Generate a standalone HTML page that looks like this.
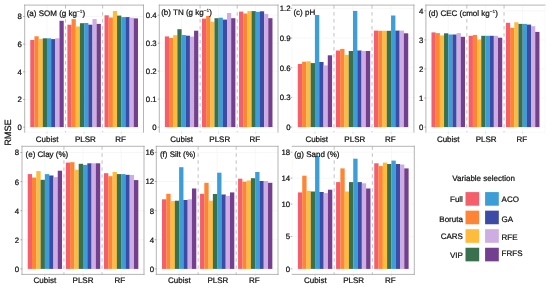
<!DOCTYPE html><html><head><meta charset="utf-8"><title>RMSE</title><style>html,body{margin:0;padding:0;background:#fff}svg{display:block}text{text-rendering:geometricPrecision;font-family:"Liberation Sans",sans-serif;fill:#111;stroke:#111;stroke-width:0.22px}</style></head><body>
<svg width="550" height="289" viewBox="0 0 550 289">
<rect width="550" height="289" fill="#fff"/>
<line x1="24.70" x2="143.50" y1="127.10" y2="127.10" stroke="#efefef" stroke-width="0.5"/>
<line x1="24.70" x2="143.50" y1="99.45" y2="99.45" stroke="#efefef" stroke-width="0.5"/>
<line x1="24.70" x2="143.50" y1="71.80" y2="71.80" stroke="#efefef" stroke-width="0.5"/>
<line x1="24.70" x2="143.50" y1="44.15" y2="44.15" stroke="#efefef" stroke-width="0.5"/>
<line x1="24.70" x2="143.50" y1="16.50" y2="16.50" stroke="#efefef" stroke-width="0.5"/>
<line x1="46.97" x2="46.97" y1="5.10" y2="132.30" stroke="#efefef" stroke-width="0.5"/>
<line x1="84.10" x2="84.10" y1="5.10" y2="132.30" stroke="#efefef" stroke-width="0.5"/>
<line x1="121.23" x2="121.23" y1="5.10" y2="132.30" stroke="#efefef" stroke-width="0.5"/>
<line x1="65.54" x2="65.54" y1="5.10" y2="132.30" stroke="#c0c0c0" stroke-width="1.0" stroke-dasharray="3.5 3.5"/>
<line x1="102.66" x2="102.66" y1="5.10" y2="132.30" stroke="#c0c0c0" stroke-width="1.0" stroke-dasharray="3.5 3.5"/>
<rect x="30.27" y="40.00" width="4.23" height="87.10" fill="#F55F6C"/>
<rect x="34.45" y="36.30" width="4.23" height="90.80" fill="#FF8536"/>
<rect x="38.62" y="38.90" width="4.23" height="88.20" fill="#FFBB3B"/>
<rect x="42.80" y="38.30" width="4.23" height="88.80" fill="#39704D"/>
<rect x="46.97" y="38.30" width="4.23" height="88.80" fill="#3C9DD7"/>
<rect x="51.15" y="39.10" width="4.23" height="88.00" fill="#3B4BA6"/>
<rect x="55.33" y="38.30" width="4.23" height="88.80" fill="#CDADE2"/>
<rect x="59.50" y="20.80" width="4.23" height="106.30" fill="#733F8E"/>
<rect x="67.39" y="24.70" width="4.23" height="102.40" fill="#F55F6C"/>
<rect x="71.57" y="19.10" width="4.23" height="108.00" fill="#FF8536"/>
<rect x="75.75" y="26.50" width="4.23" height="100.60" fill="#FFBB3B"/>
<rect x="79.92" y="23.20" width="4.23" height="103.90" fill="#39704D"/>
<rect x="84.10" y="23.00" width="4.23" height="104.10" fill="#3C9DD7"/>
<rect x="88.28" y="24.70" width="4.23" height="102.40" fill="#3B4BA6"/>
<rect x="92.45" y="19.10" width="4.23" height="108.00" fill="#CDADE2"/>
<rect x="96.63" y="23.90" width="4.23" height="103.20" fill="#733F8E"/>
<rect x="104.52" y="15.30" width="4.23" height="111.80" fill="#F55F6C"/>
<rect x="108.70" y="17.50" width="4.23" height="109.60" fill="#FF8536"/>
<rect x="112.87" y="11.00" width="4.23" height="116.10" fill="#FFBB3B"/>
<rect x="117.05" y="15.60" width="4.23" height="111.50" fill="#39704D"/>
<rect x="121.23" y="17.10" width="4.23" height="110.00" fill="#3C9DD7"/>
<rect x="125.40" y="17.10" width="4.23" height="110.00" fill="#3B4BA6"/>
<rect x="129.58" y="17.70" width="4.23" height="109.40" fill="#CDADE2"/>
<rect x="133.75" y="18.40" width="4.23" height="108.70" fill="#733F8E"/>
<line x1="24.70" y1="132.30" x2="24.70" y2="5.10" stroke="#a2a2a2" stroke-width="0.8" stroke-linecap="square"/>
<line x1="24.70" y1="5.10" x2="143.50" y2="5.10" stroke="#a2a2a2" stroke-width="0.8" stroke-linecap="square"/>
<line x1="143.50" y1="5.10" x2="143.50" y2="132.30" stroke="#a2a2a2" stroke-width="0.8" stroke-linecap="square"/>
<line x1="24.70" y1="132.30" x2="143.50" y2="132.30" stroke="#f0f0f0" stroke-width="0.5"/>
<line x1="23.10" x2="24.70" y1="127.10" y2="127.10" stroke="#666" stroke-width="0.5"/>
<text x="21.90" y="130.05" font-size="7.8" stroke-width="0.16" text-anchor="end">0</text>
<line x1="23.10" x2="24.70" y1="99.45" y2="99.45" stroke="#666" stroke-width="0.5"/>
<text x="21.90" y="102.40" font-size="7.8" stroke-width="0.16" text-anchor="end">2</text>
<line x1="23.10" x2="24.70" y1="71.80" y2="71.80" stroke="#666" stroke-width="0.5"/>
<text x="21.90" y="74.75" font-size="7.8" stroke-width="0.16" text-anchor="end">4</text>
<line x1="23.10" x2="24.70" y1="44.15" y2="44.15" stroke="#666" stroke-width="0.5"/>
<text x="21.90" y="47.10" font-size="7.8" stroke-width="0.16" text-anchor="end">6</text>
<line x1="23.10" x2="24.70" y1="16.50" y2="16.50" stroke="#666" stroke-width="0.5"/>
<text x="21.90" y="19.45" font-size="7.8" stroke-width="0.16" text-anchor="end">8</text>
<line x1="46.97" x2="46.97" y1="132.30" y2="133.80" stroke="#bbb" stroke-width="0.5"/>
<text x="47.17" y="141.55" font-size="8" text-anchor="middle">Cubist</text>
<line x1="84.10" x2="84.10" y1="132.30" y2="133.80" stroke="#bbb" stroke-width="0.5"/>
<text x="85.40" y="141.55" font-size="8" text-anchor="middle">PLSR</text>
<line x1="121.23" x2="121.23" y1="132.30" y2="133.80" stroke="#bbb" stroke-width="0.5"/>
<text x="120.63" y="141.55" font-size="8" text-anchor="middle">RF</text>
<text x="26.70" y="15.90" font-size="8">(a) SOM (g kg<tspan font-size="4.8" dy="-3.0" stroke-width="0.1">−1</tspan><tspan dy="3.0">)</tspan></text>
<line x1="159.30" x2="278.00" y1="127.10" y2="127.10" stroke="#efefef" stroke-width="0.5"/>
<line x1="159.30" x2="278.00" y1="99.12" y2="99.12" stroke="#efefef" stroke-width="0.5"/>
<line x1="159.30" x2="278.00" y1="71.15" y2="71.15" stroke="#efefef" stroke-width="0.5"/>
<line x1="159.30" x2="278.00" y1="43.18" y2="43.18" stroke="#efefef" stroke-width="0.5"/>
<line x1="159.30" x2="278.00" y1="15.20" y2="15.20" stroke="#efefef" stroke-width="0.5"/>
<line x1="181.56" x2="181.56" y1="5.10" y2="132.30" stroke="#efefef" stroke-width="0.5"/>
<line x1="218.65" x2="218.65" y1="5.10" y2="132.30" stroke="#efefef" stroke-width="0.5"/>
<line x1="255.74" x2="255.74" y1="5.10" y2="132.30" stroke="#efefef" stroke-width="0.5"/>
<line x1="200.10" x2="200.10" y1="5.10" y2="132.30" stroke="#c0c0c0" stroke-width="1.0" stroke-dasharray="3.5 3.5"/>
<line x1="237.20" x2="237.20" y1="5.10" y2="132.30" stroke="#c0c0c0" stroke-width="1.0" stroke-dasharray="3.5 3.5"/>
<rect x="164.86" y="36.40" width="4.22" height="90.70" fill="#F55F6C"/>
<rect x="169.04" y="38.00" width="4.22" height="89.10" fill="#FF8536"/>
<rect x="173.21" y="35.20" width="4.22" height="91.90" fill="#FFBB3B"/>
<rect x="177.38" y="29.20" width="4.22" height="97.90" fill="#39704D"/>
<rect x="181.56" y="35.00" width="4.22" height="92.10" fill="#3C9DD7"/>
<rect x="185.73" y="35.70" width="4.22" height="91.40" fill="#3B4BA6"/>
<rect x="189.90" y="36.60" width="4.22" height="90.50" fill="#CDADE2"/>
<rect x="194.08" y="30.70" width="4.22" height="96.40" fill="#733F8E"/>
<rect x="201.96" y="18.60" width="4.22" height="108.50" fill="#F55F6C"/>
<rect x="206.13" y="16.00" width="4.22" height="111.10" fill="#FF8536"/>
<rect x="210.30" y="21.70" width="4.22" height="105.40" fill="#FFBB3B"/>
<rect x="214.48" y="18.20" width="4.22" height="108.90" fill="#39704D"/>
<rect x="218.65" y="17.70" width="4.22" height="109.40" fill="#3C9DD7"/>
<rect x="222.82" y="19.60" width="4.22" height="107.50" fill="#3B4BA6"/>
<rect x="227.00" y="13.00" width="4.22" height="114.10" fill="#CDADE2"/>
<rect x="231.17" y="18.20" width="4.22" height="108.90" fill="#733F8E"/>
<rect x="239.05" y="11.60" width="4.22" height="115.50" fill="#F55F6C"/>
<rect x="243.22" y="13.50" width="4.22" height="113.60" fill="#FF8536"/>
<rect x="247.40" y="11.10" width="4.22" height="116.00" fill="#FFBB3B"/>
<rect x="251.57" y="11.10" width="4.22" height="116.00" fill="#39704D"/>
<rect x="255.74" y="11.80" width="4.22" height="115.30" fill="#3C9DD7"/>
<rect x="259.92" y="11.30" width="4.22" height="115.80" fill="#3B4BA6"/>
<rect x="264.09" y="13.90" width="4.22" height="113.20" fill="#CDADE2"/>
<rect x="268.26" y="18.20" width="4.22" height="108.90" fill="#733F8E"/>
<line x1="159.30" y1="132.30" x2="159.30" y2="5.10" stroke="#a2a2a2" stroke-width="0.8" stroke-linecap="square"/>
<line x1="159.30" y1="5.10" x2="278.00" y2="5.10" stroke="#a2a2a2" stroke-width="0.8" stroke-linecap="square"/>
<line x1="278.00" y1="5.10" x2="278.00" y2="132.30" stroke="#a2a2a2" stroke-width="0.8" stroke-linecap="square"/>
<line x1="159.30" y1="132.30" x2="278.00" y2="132.30" stroke="#f0f0f0" stroke-width="0.5"/>
<line x1="157.70" x2="159.30" y1="127.10" y2="127.10" stroke="#666" stroke-width="0.5"/>
<text x="156.70" y="130.05" font-size="7.8" stroke-width="0.16" text-anchor="end">0</text>
<line x1="157.70" x2="159.30" y1="99.12" y2="99.12" stroke="#666" stroke-width="0.5"/>
<text x="156.70" y="102.08" font-size="7.8" stroke-width="0.16" text-anchor="end">0.1</text>
<line x1="157.70" x2="159.30" y1="71.15" y2="71.15" stroke="#666" stroke-width="0.5"/>
<text x="156.70" y="74.10" font-size="7.8" stroke-width="0.16" text-anchor="end">0.2</text>
<line x1="157.70" x2="159.30" y1="43.18" y2="43.18" stroke="#666" stroke-width="0.5"/>
<text x="156.70" y="46.13" font-size="7.8" stroke-width="0.16" text-anchor="end">0.3</text>
<line x1="157.70" x2="159.30" y1="15.20" y2="15.20" stroke="#666" stroke-width="0.5"/>
<text x="156.70" y="18.15" font-size="7.8" stroke-width="0.16" text-anchor="end">0.4</text>
<line x1="181.56" x2="181.56" y1="132.30" y2="133.80" stroke="#bbb" stroke-width="0.5"/>
<text x="181.56" y="141.55" font-size="8" text-anchor="middle">Cubist</text>
<line x1="218.65" x2="218.65" y1="132.30" y2="133.80" stroke="#bbb" stroke-width="0.5"/>
<text x="219.75" y="141.55" font-size="8" text-anchor="middle">PLSR</text>
<line x1="255.74" x2="255.74" y1="132.30" y2="133.80" stroke="#bbb" stroke-width="0.5"/>
<text x="254.94" y="141.55" font-size="8" text-anchor="middle">RF</text>
<text x="161.20" y="15.40" font-size="8">(b) TN (g kg<tspan font-size="4.8" dy="-3.0" stroke-width="0.1">−1</tspan><tspan dy="3.0">)</tspan></text>
<line x1="292.10" x2="413.90" y1="127.10" y2="127.10" stroke="#efefef" stroke-width="0.5"/>
<line x1="292.10" x2="413.90" y1="97.40" y2="97.40" stroke="#efefef" stroke-width="0.5"/>
<line x1="292.10" x2="413.90" y1="67.70" y2="67.70" stroke="#efefef" stroke-width="0.5"/>
<line x1="292.10" x2="413.90" y1="38.00" y2="38.00" stroke="#efefef" stroke-width="0.5"/>
<line x1="292.10" x2="413.90" y1="8.30" y2="8.30" stroke="#efefef" stroke-width="0.5"/>
<line x1="314.94" x2="314.94" y1="5.10" y2="132.30" stroke="#efefef" stroke-width="0.5"/>
<line x1="353.00" x2="353.00" y1="5.10" y2="132.30" stroke="#efefef" stroke-width="0.5"/>
<line x1="391.06" x2="391.06" y1="5.10" y2="132.30" stroke="#efefef" stroke-width="0.5"/>
<line x1="333.97" x2="333.97" y1="5.10" y2="132.30" stroke="#c0c0c0" stroke-width="1.0" stroke-dasharray="3.5 3.5"/>
<line x1="372.03" x2="372.03" y1="5.10" y2="132.30" stroke="#c0c0c0" stroke-width="1.0" stroke-dasharray="3.5 3.5"/>
<rect x="297.81" y="64.00" width="4.33" height="63.10" fill="#F55F6C"/>
<rect x="302.09" y="61.70" width="4.33" height="65.40" fill="#FF8536"/>
<rect x="306.37" y="61.30" width="4.33" height="65.80" fill="#FFBB3B"/>
<rect x="310.66" y="63.10" width="4.33" height="64.00" fill="#39704D"/>
<rect x="314.94" y="15.00" width="4.33" height="112.10" fill="#3C9DD7"/>
<rect x="319.22" y="62.00" width="4.33" height="65.10" fill="#3B4BA6"/>
<rect x="323.50" y="65.40" width="4.33" height="61.70" fill="#CDADE2"/>
<rect x="327.78" y="55.30" width="4.33" height="71.80" fill="#733F8E"/>
<rect x="335.87" y="50.50" width="4.33" height="76.60" fill="#F55F6C"/>
<rect x="340.15" y="48.90" width="4.33" height="78.20" fill="#FF8536"/>
<rect x="344.44" y="54.90" width="4.33" height="72.20" fill="#FFBB3B"/>
<rect x="348.72" y="51.00" width="4.33" height="76.10" fill="#39704D"/>
<rect x="353.00" y="10.90" width="4.33" height="116.20" fill="#3C9DD7"/>
<rect x="357.28" y="50.50" width="4.33" height="76.60" fill="#3B4BA6"/>
<rect x="361.56" y="51.00" width="4.33" height="76.10" fill="#CDADE2"/>
<rect x="365.85" y="51.00" width="4.33" height="76.10" fill="#733F8E"/>
<rect x="373.93" y="30.60" width="4.33" height="96.50" fill="#F55F6C"/>
<rect x="378.22" y="30.80" width="4.33" height="96.30" fill="#FF8536"/>
<rect x="382.50" y="30.80" width="4.33" height="96.30" fill="#FFBB3B"/>
<rect x="386.78" y="30.80" width="4.33" height="96.30" fill="#39704D"/>
<rect x="391.06" y="15.50" width="4.33" height="111.60" fill="#3C9DD7"/>
<rect x="395.34" y="30.60" width="4.33" height="96.50" fill="#3B4BA6"/>
<rect x="399.63" y="30.60" width="4.33" height="96.50" fill="#CDADE2"/>
<rect x="403.91" y="33.30" width="4.33" height="93.80" fill="#733F8E"/>
<line x1="292.10" y1="132.30" x2="292.10" y2="5.10" stroke="#f0f0f0" stroke-width="0.5"/>
<line x1="292.10" y1="5.10" x2="413.90" y2="5.10" stroke="#a2a2a2" stroke-width="0.8" stroke-linecap="square"/>
<line x1="413.90" y1="5.10" x2="413.90" y2="132.30" stroke="#a2a2a2" stroke-width="0.8" stroke-linecap="square"/>
<line x1="292.10" y1="132.30" x2="413.90" y2="132.30" stroke="#f0f0f0" stroke-width="0.5"/>
<line x1="290.50" x2="292.10" y1="127.10" y2="127.10" stroke="#666" stroke-width="0.5"/>
<text x="290.60" y="130.05" font-size="7.8" stroke-width="0.16" text-anchor="end">0</text>
<line x1="290.50" x2="292.10" y1="97.40" y2="97.40" stroke="#666" stroke-width="0.5"/>
<text x="290.60" y="100.35" font-size="7.8" stroke-width="0.16" text-anchor="end">0.3</text>
<line x1="290.50" x2="292.10" y1="67.70" y2="67.70" stroke="#666" stroke-width="0.5"/>
<text x="290.60" y="70.65" font-size="7.8" stroke-width="0.16" text-anchor="end">0.6</text>
<line x1="290.50" x2="292.10" y1="38.00" y2="38.00" stroke="#666" stroke-width="0.5"/>
<text x="290.60" y="40.95" font-size="7.8" stroke-width="0.16" text-anchor="end">0.9</text>
<line x1="290.50" x2="292.10" y1="8.30" y2="8.30" stroke="#666" stroke-width="0.5"/>
<text x="290.60" y="11.25" font-size="7.8" stroke-width="0.16" text-anchor="end">1.2</text>
<line x1="314.94" x2="314.94" y1="132.30" y2="133.80" stroke="#bbb" stroke-width="0.5"/>
<text x="316.74" y="141.55" font-size="8" text-anchor="middle">Cubist</text>
<line x1="353.00" x2="353.00" y1="132.30" y2="133.80" stroke="#bbb" stroke-width="0.5"/>
<text x="354.80" y="141.55" font-size="8" text-anchor="middle">PLSR</text>
<line x1="391.06" x2="391.06" y1="132.30" y2="133.80" stroke="#bbb" stroke-width="0.5"/>
<text x="390.26" y="141.55" font-size="8" text-anchor="middle">RF</text>
<text x="293.40" y="15.40" font-size="8">(c) pH</text>
<line x1="425.90" x2="545.00" y1="127.10" y2="127.10" stroke="#efefef" stroke-width="0.5"/>
<line x1="425.90" x2="545.00" y1="98.02" y2="98.02" stroke="#efefef" stroke-width="0.5"/>
<line x1="425.90" x2="545.00" y1="68.95" y2="68.95" stroke="#efefef" stroke-width="0.5"/>
<line x1="425.90" x2="545.00" y1="39.88" y2="39.88" stroke="#efefef" stroke-width="0.5"/>
<line x1="425.90" x2="545.00" y1="10.80" y2="10.80" stroke="#efefef" stroke-width="0.5"/>
<line x1="448.23" x2="448.23" y1="5.10" y2="132.30" stroke="#efefef" stroke-width="0.5"/>
<line x1="485.45" x2="485.45" y1="5.10" y2="132.30" stroke="#efefef" stroke-width="0.5"/>
<line x1="522.67" x2="522.67" y1="5.10" y2="132.30" stroke="#efefef" stroke-width="0.5"/>
<line x1="466.84" x2="466.84" y1="5.10" y2="132.30" stroke="#c0c0c0" stroke-width="1.0" stroke-dasharray="3.5 3.5"/>
<line x1="504.06" x2="504.06" y1="5.10" y2="132.30" stroke="#c0c0c0" stroke-width="1.0" stroke-dasharray="3.5 3.5"/>
<rect x="431.48" y="32.40" width="4.24" height="94.70" fill="#F55F6C"/>
<rect x="435.67" y="33.10" width="4.24" height="94.00" fill="#FF8536"/>
<rect x="439.86" y="35.40" width="4.24" height="91.70" fill="#FFBB3B"/>
<rect x="444.04" y="33.30" width="4.24" height="93.80" fill="#39704D"/>
<rect x="448.23" y="34.50" width="4.24" height="92.60" fill="#3C9DD7"/>
<rect x="452.42" y="34.50" width="4.24" height="92.60" fill="#3B4BA6"/>
<rect x="456.61" y="33.10" width="4.24" height="94.00" fill="#CDADE2"/>
<rect x="460.79" y="36.80" width="4.24" height="90.30" fill="#733F8E"/>
<rect x="468.70" y="35.80" width="4.24" height="91.30" fill="#F55F6C"/>
<rect x="472.89" y="34.90" width="4.24" height="92.20" fill="#FF8536"/>
<rect x="477.08" y="39.50" width="4.24" height="87.60" fill="#FFBB3B"/>
<rect x="481.26" y="35.80" width="4.24" height="91.30" fill="#39704D"/>
<rect x="485.45" y="35.80" width="4.24" height="91.30" fill="#3C9DD7"/>
<rect x="489.64" y="35.80" width="4.24" height="91.30" fill="#3B4BA6"/>
<rect x="493.82" y="35.80" width="4.24" height="91.30" fill="#CDADE2"/>
<rect x="498.01" y="37.70" width="4.24" height="89.40" fill="#733F8E"/>
<rect x="505.92" y="22.80" width="4.24" height="104.30" fill="#F55F6C"/>
<rect x="510.11" y="27.80" width="4.24" height="99.30" fill="#FF8536"/>
<rect x="514.29" y="22.30" width="4.24" height="104.80" fill="#FFBB3B"/>
<rect x="518.48" y="23.90" width="4.24" height="103.20" fill="#39704D"/>
<rect x="522.67" y="23.90" width="4.24" height="103.20" fill="#3C9DD7"/>
<rect x="526.86" y="24.60" width="4.24" height="102.50" fill="#3B4BA6"/>
<rect x="531.04" y="26.20" width="4.24" height="100.90" fill="#CDADE2"/>
<rect x="535.23" y="31.90" width="4.24" height="95.20" fill="#733F8E"/>
<line x1="425.90" y1="132.30" x2="425.90" y2="5.10" stroke="#a2a2a2" stroke-width="0.8" stroke-linecap="square"/>
<line x1="425.90" y1="5.10" x2="545.00" y2="5.10" stroke="#a2a2a2" stroke-width="0.8" stroke-linecap="square"/>
<line x1="545.00" y1="5.10" x2="545.00" y2="132.30" stroke="#f0f0f0" stroke-width="0.5"/>
<line x1="425.90" y1="132.30" x2="545.00" y2="132.30" stroke="#f0f0f0" stroke-width="0.5"/>
<line x1="424.30" x2="425.90" y1="127.10" y2="127.10" stroke="#666" stroke-width="0.5"/>
<text x="423.40" y="130.05" font-size="7.8" stroke-width="0.16" text-anchor="end">0</text>
<line x1="424.30" x2="425.90" y1="98.02" y2="98.02" stroke="#666" stroke-width="0.5"/>
<text x="423.40" y="100.97" font-size="7.8" stroke-width="0.16" text-anchor="end">1</text>
<line x1="424.30" x2="425.90" y1="68.95" y2="68.95" stroke="#666" stroke-width="0.5"/>
<text x="423.40" y="71.90" font-size="7.8" stroke-width="0.16" text-anchor="end">2</text>
<line x1="424.30" x2="425.90" y1="39.88" y2="39.88" stroke="#666" stroke-width="0.5"/>
<text x="423.40" y="42.83" font-size="7.8" stroke-width="0.16" text-anchor="end">3</text>
<line x1="424.30" x2="425.90" y1="10.80" y2="10.80" stroke="#666" stroke-width="0.5"/>
<text x="423.40" y="13.75" font-size="7.8" stroke-width="0.16" text-anchor="end">4</text>
<line x1="448.23" x2="448.23" y1="132.30" y2="133.80" stroke="#bbb" stroke-width="0.5"/>
<text x="448.23" y="141.55" font-size="8" text-anchor="middle">Cubist</text>
<line x1="485.45" x2="485.45" y1="132.30" y2="133.80" stroke="#bbb" stroke-width="0.5"/>
<text x="486.15" y="141.55" font-size="8" text-anchor="middle">PLSR</text>
<line x1="522.67" x2="522.67" y1="132.30" y2="133.80" stroke="#bbb" stroke-width="0.5"/>
<text x="521.87" y="141.55" font-size="8" text-anchor="middle">RF</text>
<text x="428.40" y="15.50" font-size="8">(d) CEC (cmol kg<tspan font-size="4.8" dy="-3.0" stroke-width="0.1">−1</tspan><tspan dy="3.0">)</tspan></text>
<line x1="22.00" x2="144.00" y1="268.90" y2="268.90" stroke="#efefef" stroke-width="0.5"/>
<line x1="22.00" x2="144.00" y1="239.80" y2="239.80" stroke="#efefef" stroke-width="0.5"/>
<line x1="22.00" x2="144.00" y1="210.70" y2="210.70" stroke="#efefef" stroke-width="0.5"/>
<line x1="22.00" x2="144.00" y1="181.60" y2="181.60" stroke="#efefef" stroke-width="0.5"/>
<line x1="22.00" x2="144.00" y1="152.50" y2="152.50" stroke="#efefef" stroke-width="0.5"/>
<line x1="44.88" x2="44.88" y1="146.30" y2="274.40" stroke="#efefef" stroke-width="0.5"/>
<line x1="83.00" x2="83.00" y1="146.30" y2="274.40" stroke="#efefef" stroke-width="0.5"/>
<line x1="121.12" x2="121.12" y1="146.30" y2="274.40" stroke="#efefef" stroke-width="0.5"/>
<line x1="63.94" x2="63.94" y1="146.30" y2="274.40" stroke="#c0c0c0" stroke-width="1.0" stroke-dasharray="3.5 3.5"/>
<line x1="102.06" x2="102.06" y1="146.30" y2="274.40" stroke="#c0c0c0" stroke-width="1.0" stroke-dasharray="3.5 3.5"/>
<rect x="27.72" y="174.10" width="4.34" height="94.80" fill="#F55F6C"/>
<rect x="32.01" y="177.50" width="4.34" height="91.40" fill="#FF8536"/>
<rect x="36.30" y="171.10" width="4.34" height="97.80" fill="#FFBB3B"/>
<rect x="40.59" y="179.80" width="4.34" height="89.10" fill="#39704D"/>
<rect x="44.88" y="174.10" width="4.34" height="94.80" fill="#3C9DD7"/>
<rect x="49.16" y="175.50" width="4.34" height="93.40" fill="#3B4BA6"/>
<rect x="53.45" y="177.10" width="4.34" height="91.80" fill="#CDADE2"/>
<rect x="57.74" y="170.70" width="4.34" height="98.20" fill="#733F8E"/>
<rect x="65.84" y="162.60" width="4.34" height="106.30" fill="#F55F6C"/>
<rect x="70.13" y="162.20" width="4.34" height="106.70" fill="#FF8536"/>
<rect x="74.42" y="169.70" width="4.34" height="99.20" fill="#FFBB3B"/>
<rect x="78.71" y="163.80" width="4.34" height="105.10" fill="#39704D"/>
<rect x="83.00" y="164.90" width="4.34" height="104.00" fill="#3C9DD7"/>
<rect x="87.29" y="163.30" width="4.34" height="105.60" fill="#3B4BA6"/>
<rect x="91.58" y="163.30" width="4.34" height="105.60" fill="#CDADE2"/>
<rect x="95.87" y="163.30" width="4.34" height="105.60" fill="#733F8E"/>
<rect x="103.97" y="173.20" width="4.34" height="95.70" fill="#F55F6C"/>
<rect x="108.26" y="176.20" width="4.34" height="92.70" fill="#FF8536"/>
<rect x="112.55" y="172.00" width="4.34" height="96.90" fill="#FFBB3B"/>
<rect x="116.84" y="174.10" width="4.34" height="94.80" fill="#39704D"/>
<rect x="121.12" y="174.10" width="4.34" height="94.80" fill="#3C9DD7"/>
<rect x="125.41" y="174.80" width="4.34" height="94.10" fill="#3B4BA6"/>
<rect x="129.70" y="175.00" width="4.34" height="93.90" fill="#CDADE2"/>
<rect x="133.99" y="180.10" width="4.34" height="88.80" fill="#733F8E"/>
<line x1="22.00" y1="274.40" x2="22.00" y2="146.30" stroke="#a2a2a2" stroke-width="0.8" stroke-linecap="square"/>
<line x1="22.00" y1="146.30" x2="144.00" y2="146.30" stroke="#a2a2a2" stroke-width="0.8" stroke-linecap="square"/>
<line x1="144.00" y1="146.30" x2="144.00" y2="274.40" stroke="#a2a2a2" stroke-width="0.8" stroke-linecap="square"/>
<line x1="22.00" y1="274.40" x2="144.00" y2="274.40" stroke="#a2a2a2" stroke-width="0.8" stroke-linecap="square"/>
<line x1="20.40" x2="22.00" y1="268.90" y2="268.90" stroke="#666" stroke-width="0.5"/>
<text x="19.10" y="271.85" font-size="7.8" stroke-width="0.16" text-anchor="end">0</text>
<line x1="20.40" x2="22.00" y1="239.80" y2="239.80" stroke="#666" stroke-width="0.5"/>
<text x="19.10" y="242.75" font-size="7.8" stroke-width="0.16" text-anchor="end">2</text>
<line x1="20.40" x2="22.00" y1="210.70" y2="210.70" stroke="#666" stroke-width="0.5"/>
<text x="19.10" y="213.65" font-size="7.8" stroke-width="0.16" text-anchor="end">4</text>
<line x1="20.40" x2="22.00" y1="181.60" y2="181.60" stroke="#666" stroke-width="0.5"/>
<text x="19.10" y="184.55" font-size="7.8" stroke-width="0.16" text-anchor="end">6</text>
<line x1="20.40" x2="22.00" y1="152.50" y2="152.50" stroke="#666" stroke-width="0.5"/>
<text x="19.10" y="155.45" font-size="7.8" stroke-width="0.16" text-anchor="end">8</text>
<line x1="44.88" x2="44.88" y1="274.40" y2="275.90" stroke="#bbb" stroke-width="0.5"/>
<text x="44.88" y="283.35" font-size="8" text-anchor="middle">Cubist</text>
<line x1="83.00" x2="83.00" y1="274.40" y2="275.90" stroke="#bbb" stroke-width="0.5"/>
<text x="83.00" y="283.35" font-size="8" text-anchor="middle">PLSR</text>
<line x1="121.12" x2="121.12" y1="274.40" y2="275.90" stroke="#bbb" stroke-width="0.5"/>
<text x="119.83" y="283.35" font-size="8" text-anchor="middle">RF</text>
<text x="25.60" y="156.70" font-size="8">(e) Clay (%)</text>
<line x1="156.30" x2="278.00" y1="268.90" y2="268.90" stroke="#efefef" stroke-width="0.5"/>
<line x1="156.30" x2="278.00" y1="239.77" y2="239.77" stroke="#efefef" stroke-width="0.5"/>
<line x1="156.30" x2="278.00" y1="210.65" y2="210.65" stroke="#efefef" stroke-width="0.5"/>
<line x1="156.30" x2="278.00" y1="181.53" y2="181.53" stroke="#efefef" stroke-width="0.5"/>
<line x1="156.30" x2="278.00" y1="152.40" y2="152.40" stroke="#efefef" stroke-width="0.5"/>
<line x1="179.12" x2="179.12" y1="146.30" y2="274.40" stroke="#efefef" stroke-width="0.5"/>
<line x1="217.15" x2="217.15" y1="146.30" y2="274.40" stroke="#efefef" stroke-width="0.5"/>
<line x1="255.18" x2="255.18" y1="146.30" y2="274.40" stroke="#efefef" stroke-width="0.5"/>
<line x1="198.13" x2="198.13" y1="146.30" y2="274.40" stroke="#c0c0c0" stroke-width="1.0" stroke-dasharray="3.5 3.5"/>
<line x1="236.17" x2="236.17" y1="146.30" y2="274.40" stroke="#c0c0c0" stroke-width="1.0" stroke-dasharray="3.5 3.5"/>
<rect x="162.00" y="199.30" width="4.33" height="69.60" fill="#F55F6C"/>
<rect x="166.28" y="193.80" width="4.33" height="75.10" fill="#FF8536"/>
<rect x="170.56" y="201.10" width="4.33" height="67.80" fill="#FFBB3B"/>
<rect x="174.84" y="200.70" width="4.33" height="68.20" fill="#39704D"/>
<rect x="179.12" y="167.20" width="4.33" height="101.70" fill="#3C9DD7"/>
<rect x="183.40" y="200.00" width="4.33" height="68.90" fill="#3B4BA6"/>
<rect x="187.68" y="199.30" width="4.33" height="69.60" fill="#CDADE2"/>
<rect x="191.95" y="188.50" width="4.33" height="80.40" fill="#733F8E"/>
<rect x="200.04" y="193.80" width="4.33" height="75.10" fill="#F55F6C"/>
<rect x="204.31" y="182.80" width="4.33" height="86.10" fill="#FF8536"/>
<rect x="208.59" y="200.70" width="4.33" height="68.20" fill="#FFBB3B"/>
<rect x="212.87" y="194.00" width="4.33" height="74.90" fill="#39704D"/>
<rect x="217.15" y="172.70" width="4.33" height="96.20" fill="#3C9DD7"/>
<rect x="221.43" y="194.50" width="4.33" height="74.40" fill="#3B4BA6"/>
<rect x="225.71" y="195.90" width="4.33" height="73.00" fill="#CDADE2"/>
<rect x="229.99" y="192.40" width="4.33" height="76.50" fill="#733F8E"/>
<rect x="238.07" y="178.70" width="4.33" height="90.20" fill="#F55F6C"/>
<rect x="242.35" y="181.70" width="4.33" height="87.20" fill="#FF8536"/>
<rect x="246.62" y="180.50" width="4.33" height="88.40" fill="#FFBB3B"/>
<rect x="250.90" y="178.20" width="4.33" height="90.70" fill="#39704D"/>
<rect x="255.18" y="172.00" width="4.33" height="96.90" fill="#3C9DD7"/>
<rect x="259.46" y="181.00" width="4.33" height="87.90" fill="#3B4BA6"/>
<rect x="263.74" y="181.00" width="4.33" height="87.90" fill="#CDADE2"/>
<rect x="268.02" y="182.80" width="4.33" height="86.10" fill="#733F8E"/>
<line x1="156.30" y1="274.40" x2="156.30" y2="146.30" stroke="#a2a2a2" stroke-width="0.8" stroke-linecap="square"/>
<line x1="156.30" y1="146.30" x2="278.00" y2="146.30" stroke="#a2a2a2" stroke-width="0.8" stroke-linecap="square"/>
<line x1="278.00" y1="146.30" x2="278.00" y2="274.40" stroke="#a2a2a2" stroke-width="0.8" stroke-linecap="square"/>
<line x1="156.30" y1="274.40" x2="278.00" y2="274.40" stroke="#a2a2a2" stroke-width="0.8" stroke-linecap="square"/>
<line x1="154.70" x2="156.30" y1="268.90" y2="268.90" stroke="#666" stroke-width="0.5"/>
<text x="154.20" y="271.85" font-size="7.8" stroke-width="0.16" text-anchor="end">0</text>
<line x1="154.70" x2="156.30" y1="239.77" y2="239.77" stroke="#666" stroke-width="0.5"/>
<text x="154.20" y="242.72" font-size="7.8" stroke-width="0.16" text-anchor="end">4</text>
<line x1="154.70" x2="156.30" y1="210.65" y2="210.65" stroke="#666" stroke-width="0.5"/>
<text x="154.20" y="213.60" font-size="7.8" stroke-width="0.16" text-anchor="end">8</text>
<line x1="154.70" x2="156.30" y1="181.53" y2="181.53" stroke="#666" stroke-width="0.5"/>
<text x="154.20" y="184.47" font-size="7.8" stroke-width="0.16" text-anchor="end">12</text>
<line x1="154.70" x2="156.30" y1="152.40" y2="152.40" stroke="#666" stroke-width="0.5"/>
<text x="154.20" y="155.35" font-size="7.8" stroke-width="0.16" text-anchor="end">16</text>
<line x1="179.12" x2="179.12" y1="274.40" y2="275.90" stroke="#bbb" stroke-width="0.5"/>
<text x="179.42" y="283.35" font-size="8" text-anchor="middle">Cubist</text>
<line x1="217.15" x2="217.15" y1="274.40" y2="275.90" stroke="#bbb" stroke-width="0.5"/>
<text x="217.85" y="283.35" font-size="8" text-anchor="middle">PLSR</text>
<line x1="255.18" x2="255.18" y1="274.40" y2="275.90" stroke="#bbb" stroke-width="0.5"/>
<text x="254.38" y="283.35" font-size="8" text-anchor="middle">RF</text>
<text x="159.90" y="156.70" font-size="8">(f) Silt (%)</text>
<line x1="292.20" x2="414.30" y1="268.90" y2="268.90" stroke="#efefef" stroke-width="0.5"/>
<line x1="292.20" x2="414.30" y1="236.48" y2="236.48" stroke="#efefef" stroke-width="0.5"/>
<line x1="292.20" x2="414.30" y1="204.07" y2="204.07" stroke="#efefef" stroke-width="0.5"/>
<line x1="292.20" x2="414.30" y1="178.13" y2="178.13" stroke="#efefef" stroke-width="0.5"/>
<line x1="292.20" x2="414.30" y1="152.20" y2="152.20" stroke="#efefef" stroke-width="0.5"/>
<line x1="315.09" x2="315.09" y1="146.30" y2="274.40" stroke="#efefef" stroke-width="0.5"/>
<line x1="353.25" x2="353.25" y1="146.30" y2="274.40" stroke="#efefef" stroke-width="0.5"/>
<line x1="391.41" x2="391.41" y1="146.30" y2="274.40" stroke="#efefef" stroke-width="0.5"/>
<line x1="334.17" x2="334.17" y1="146.30" y2="274.40" stroke="#c0c0c0" stroke-width="1.0" stroke-dasharray="3.5 3.5"/>
<line x1="372.33" x2="372.33" y1="146.30" y2="274.40" stroke="#c0c0c0" stroke-width="1.0" stroke-dasharray="3.5 3.5"/>
<rect x="297.92" y="192.40" width="4.34" height="76.50" fill="#F55F6C"/>
<rect x="302.22" y="175.70" width="4.34" height="93.20" fill="#FF8536"/>
<rect x="306.51" y="190.80" width="4.34" height="78.10" fill="#FFBB3B"/>
<rect x="310.80" y="191.50" width="4.34" height="77.40" fill="#39704D"/>
<rect x="315.09" y="156.00" width="4.34" height="112.90" fill="#3C9DD7"/>
<rect x="319.39" y="192.00" width="4.34" height="76.90" fill="#3B4BA6"/>
<rect x="323.68" y="193.10" width="4.34" height="75.80" fill="#CDADE2"/>
<rect x="327.97" y="189.70" width="4.34" height="79.20" fill="#733F8E"/>
<rect x="336.08" y="182.10" width="4.34" height="86.80" fill="#F55F6C"/>
<rect x="340.37" y="168.40" width="4.34" height="100.50" fill="#FF8536"/>
<rect x="344.66" y="191.50" width="4.34" height="77.40" fill="#FFBB3B"/>
<rect x="348.96" y="182.10" width="4.34" height="86.80" fill="#39704D"/>
<rect x="353.25" y="158.70" width="4.34" height="110.20" fill="#3C9DD7"/>
<rect x="357.54" y="182.10" width="4.34" height="86.80" fill="#3B4BA6"/>
<rect x="361.84" y="183.30" width="4.34" height="85.60" fill="#CDADE2"/>
<rect x="366.13" y="188.50" width="4.34" height="80.40" fill="#733F8E"/>
<rect x="374.24" y="163.30" width="4.34" height="105.60" fill="#F55F6C"/>
<rect x="378.53" y="166.10" width="4.34" height="102.80" fill="#FF8536"/>
<rect x="382.82" y="162.60" width="4.34" height="106.30" fill="#FFBB3B"/>
<rect x="387.11" y="164.00" width="4.34" height="104.90" fill="#39704D"/>
<rect x="391.41" y="160.60" width="4.34" height="108.30" fill="#3C9DD7"/>
<rect x="395.70" y="164.00" width="4.34" height="104.90" fill="#3B4BA6"/>
<rect x="399.99" y="164.50" width="4.34" height="104.40" fill="#CDADE2"/>
<rect x="404.28" y="168.40" width="4.34" height="100.50" fill="#733F8E"/>
<line x1="292.20" y1="274.40" x2="292.20" y2="146.30" stroke="#f0f0f0" stroke-width="0.5"/>
<line x1="292.20" y1="146.30" x2="414.30" y2="146.30" stroke="#a2a2a2" stroke-width="0.8" stroke-linecap="square"/>
<line x1="414.30" y1="146.30" x2="414.30" y2="274.40" stroke="#a2a2a2" stroke-width="0.8" stroke-linecap="square"/>
<line x1="292.20" y1="274.40" x2="414.30" y2="274.40" stroke="#a2a2a2" stroke-width="0.8" stroke-linecap="square"/>
<line x1="290.60" x2="292.20" y1="268.90" y2="268.90" stroke="#666" stroke-width="0.5"/>
<text x="290.10" y="271.85" font-size="7.8" stroke-width="0.16" text-anchor="end">0</text>
<line x1="290.60" x2="292.20" y1="236.48" y2="236.48" stroke="#666" stroke-width="0.5"/>
<text x="290.10" y="239.43" font-size="7.8" stroke-width="0.16" text-anchor="end">5</text>
<line x1="290.60" x2="292.20" y1="204.07" y2="204.07" stroke="#666" stroke-width="0.5"/>
<text x="290.10" y="207.02" font-size="7.8" stroke-width="0.16" text-anchor="end">10</text>
<line x1="290.60" x2="292.20" y1="178.13" y2="178.13" stroke="#666" stroke-width="0.5"/>
<text x="290.10" y="181.08" font-size="7.8" stroke-width="0.16" text-anchor="end">14</text>
<line x1="290.60" x2="292.20" y1="152.20" y2="152.20" stroke="#666" stroke-width="0.5"/>
<text x="290.10" y="155.15" font-size="7.8" stroke-width="0.16" text-anchor="end">18</text>
<line x1="315.09" x2="315.09" y1="274.40" y2="275.90" stroke="#bbb" stroke-width="0.5"/>
<text x="315.29" y="283.35" font-size="8" text-anchor="middle">Cubist</text>
<line x1="353.25" x2="353.25" y1="274.40" y2="275.90" stroke="#bbb" stroke-width="0.5"/>
<text x="353.65" y="283.35" font-size="8" text-anchor="middle">PLSR</text>
<line x1="391.41" x2="391.41" y1="274.40" y2="275.90" stroke="#bbb" stroke-width="0.5"/>
<text x="390.41" y="283.35" font-size="8" text-anchor="middle">RF</text>
<text x="294.20" y="156.90" font-size="8">(g) Sand (%)</text>
<text transform="translate(10.8,132.6) rotate(-90)" font-size="9.2" text-anchor="middle">RMSE</text>
<text x="483.6" y="181.1" font-size="8" text-anchor="middle">Variable selection</text>
<rect x="465.5" y="192.10" width="13.7" height="13.6" fill="#F55F6C"/>
<text x="462.9" y="202.40" font-size="8" text-anchor="end">Full</text>
<rect x="465.5" y="210.65" width="13.7" height="13.6" fill="#FF8536"/>
<text x="462.9" y="221.65" font-size="8" text-anchor="end">Boruta</text>
<rect x="465.5" y="229.20" width="13.7" height="13.6" fill="#FFBB3B"/>
<text x="462.9" y="239.45" font-size="8" text-anchor="end">CARS</text>
<rect x="465.5" y="247.75" width="13.7" height="13.6" fill="#39704D"/>
<text x="462.9" y="257.70" font-size="8" text-anchor="end">VIP</text>
<rect x="485.1" y="192.10" width="13.7" height="13.6" fill="#3C9DD7"/>
<text x="501.6" y="202.40" font-size="8">ACO</text>
<rect x="485.1" y="210.65" width="13.7" height="13.6" fill="#3B4BA6"/>
<text x="501.6" y="221.65" font-size="8">GA</text>
<rect x="485.1" y="229.20" width="13.7" height="13.6" fill="#CDADE2"/>
<text x="501.6" y="240.15" font-size="8">RFE</text>
<rect x="485.1" y="247.75" width="13.7" height="13.6" fill="#733F8E"/>
<text x="501.6" y="256.00" font-size="8">FRFS</text>
</svg></body></html>
